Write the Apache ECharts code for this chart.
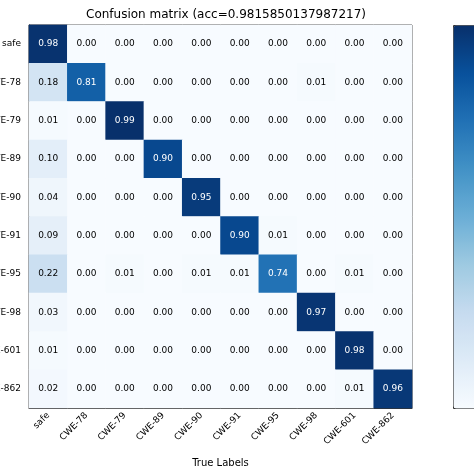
<!DOCTYPE html>
<html>
<head>
<meta charset="utf-8">
<script src="https://cdn.jsdelivr.net/npm/echarts@6/dist/echarts.min.js"></script>
<style>html,body{margin:0;padding:0;background:#fff}</style>
</head>
<body>
<div id="container" style="width:474px;height:474px;"></div>
<script>
    var labels = ['safe', 'CWE-78', 'CWE-79', 'CWE-89', 'CWE-90', 'CWE-91', 'CWE-95', 'CWE-98', 'CWE-601', 'CWE-862'];
    // rows top to bottom
    var matrix = [
        [0.98, 0, 0, 0, 0, 0, 0, 0, 0, 0],
        [0.18, 0.81, 0, 0, 0, 0, 0, 0.01, 0, 0],
        [0.01, 0, 0.99, 0, 0, 0, 0, 0, 0, 0],
        [0.10, 0, 0, 0.90, 0, 0, 0, 0, 0, 0],
        [0.04, 0, 0, 0, 0.95, 0, 0, 0, 0, 0],
        [0.09, 0, 0, 0, 0, 0.90, 0.01, 0, 0, 0],
        [0.22, 0, 0.01, 0, 0.01, 0.01, 0.74, 0, 0.01, 0],
        [0.03, 0, 0, 0, 0, 0, 0, 0.97, 0, 0],
        [0.01, 0, 0, 0, 0, 0, 0, 0, 0.98, 0],
        [0.02, 0, 0, 0, 0, 0, 0, 0, 0.01, 0.96]
    ];
    var blues = ['#f7fbff', '#deebf7', '#c6dbef', '#9ecae1', '#6baed6', '#4292c6', '#2171b5', '#08519c', '#08306b'];

    var data = [];
    matrix.forEach(function (row, i) {
        row.forEach(function (v, j) {
            data.push({ value: [j, i, v], label: { color: v > 0.5 ? '#fff' : '#000' } });
        });
    });

    var myChart = echarts.init(document.getElementById('container'));
    var option = {
        animation: false,
        textStyle: { fontFamily: 'DejaVu Sans' },
        title: {
            text: 'Confusion matrix (acc=0.9815850137987217)',
            left: 221, textAlign: 'center', top: 4,
            textStyle: { fontSize: 12, fontWeight: 'normal', color: '#000' }
        },
        grid: {
            left: 29, top: 25, width: 383, height: 383,
            containLabel: false, outerBoundsMode: 'none',
            show: true, borderColor: '#333', borderWidth: 1
        },
        xAxis: {
            type: 'category', data: labels, name: 'True Labels',
            nameLocation: 'middle', nameGap: 50,
            nameTextStyle: { fontSize: 10, color: '#000' },
            axisLabel: { rotate: 45, fontSize: 9, color: '#000', interval: 0, margin: 6 },
            axisTick: { alignWithLabel: true, lineStyle: { color: '#333' } },
            axisLine: { lineStyle: { color: '#333' } },
            splitLine: { show: false }
        },
        yAxis: {
            type: 'category', data: labels, inverse: true,
            axisLabel: { fontSize: 9, color: '#000', interval: 0 },
            axisTick: { alignWithLabel: true, lineStyle: { color: '#333' } },
            axisLine: { lineStyle: { color: '#333' } },
            splitLine: { show: false }
        },
        visualMap: {
            type: 'continuous', min: 0, max: 0.99, calculable: false,
            left: 453, top: 25, itemWidth: 30, itemHeight: 383,
            padding: 0, text: null, showLabel: false,
            borderColor: '#333', borderWidth: 1,
            inRange: { color: blues }
        },
        series: [{
            type: 'heatmap',
            data: data,
            label: {
                show: true, fontSize: 9,
                formatter: function (p) { return p.value[2].toFixed(2); }
            }
        }]
    };
    myChart.setOption(option);
</script>
</body>
</html>
